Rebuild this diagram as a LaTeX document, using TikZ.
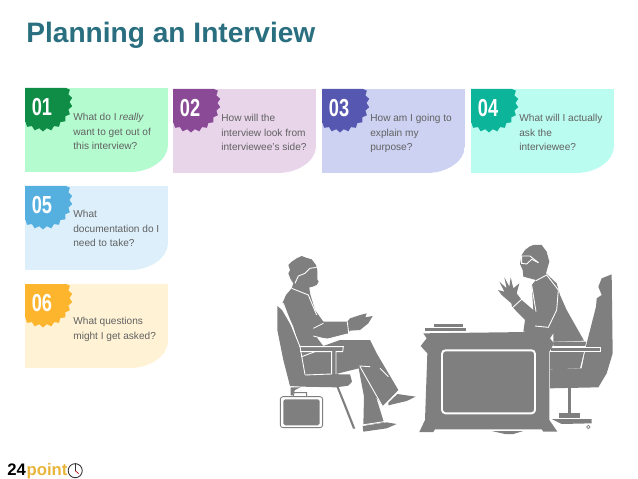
\documentclass[tikz,border=0pt]{standalone}
\usepackage{fontspec}
\usetikzlibrary{positioning}
\setmainfont{Liberation Sans}
\definecolor{figgray}{HTML}{7F7F7F}
\definecolor{titleteal}{HTML}{2A6F80}
\definecolor{logogold}{HTML}{E8B53A}
\definecolor{cardA}{HTML}{B5FBD0}\definecolor{burstA}{HTML}{0F8C46}
\definecolor{cardB}{HTML}{E8D5EA}\definecolor{burstB}{HTML}{8A4A96}
\definecolor{cardC}{HTML}{CDD2F2}\definecolor{burstC}{HTML}{5557B0}
\definecolor{cardD}{HTML}{BBFCF0}\definecolor{burstD}{HTML}{0CB59A}
\definecolor{cardE}{HTML}{DCEFFA}\definecolor{burstE}{HTML}{55B0E0}
\definecolor{cardF}{HTML}{FFF2D5}\definecolor{burstF}{HTML}{FDB52E}
\tikzset{
  numlabel/.style={text=white,font=\fontsize{14}{14}\selectfont\bfseries,inner sep=0pt},
  cardtext/.style={text=black!62,font=\fontsize{5.75}{8.5}\selectfont,align=left,anchor=base west,inner sep=0pt},
  figfill/.style={fill=figgray,draw=none},
  cutline/.style={draw=white,line width=0.5pt},
}
\begin{document}
\begin{tikzpicture}[x=0.02cm,y=-0.02cm]
    \useasboundingbox (0,0) rectangle (638,479);
    \node[anchor=base west,inner sep=0pt,text=titleteal,font=\fontsize{16}{16}\selectfont\bfseries] (title) at (26,43) {Planning an Interview};
    % cards
    \foreach \cx/\cy/\fillc/\burstc/\num/\by/\lines in {
        25/88/cardA/burstA/01/150/{What do I \textit{really}\\want to get out of\\this interview?},
        173/89/cardB/burstB/02/151/{How will the\\interview look from\\interviewee's side?},
        322/89/cardC/burstC/03/151/{How am I going to\\explain my\\purpose?},
        471/89/cardD/burstD/04/151/{What will I actually\\ask the\\interviewee?},
        25/186/cardE/burstE/05/247/{What\\documentation do I\\need to take?},
        25/284/cardF/burstF/06/339/{What questions\\might I get asked?}} {
        \begin{scope}
            \clip (\cx,\cy) -- (\cx+143,\cy) -- (\cx+143,\cy+57) .. controls (\cx+143,\cy+72) and (\cx+125,\cy+84) .. (\cx+105,\cy+84) -- (\cx,\cy+84) -- cycle;
            \fill[\fillc] (\cx,\cy) rectangle (\cx+143,\cy+84);
            \fill[\burstc] plot[samples=45,variable=\k,domain=0:44] ({\cx+18+(26.5+3*mod(round(\k),2))*cos(\k*8.1818)},{\cy+14+(26.5+3*mod(round(\k),2))*sin(\k*8.1818)}) -- cycle;
        \end{scope}
        \node[numlabel] (num\num) at (\cx+17,\cy+19) {\scalebox{.74}[1]{\num}};
        \node[cardtext] (txt\num) at (\cx+48,\by) {\lines};
    }
    % man on the left
    \begin{scope}[shift={(260,240)},scale=1/3]
        \fill[figfill] (52,198) -- (66,210) -- (95,260) -- (120,320) -- (135,402) -- (270,403) -- (276,425) -- (265,437) -- (236,441) -- (256,490) -- (286,566) -- (279,566) -- (246,482) -- (230,442) -- (125,440) -- (90,438) -- (70,360) -- (52,270) -- cycle;
        \fill[figfill] (110,55) -- (125,48) -- (135,52) -- (155,58) -- (168,75) -- (172,92) -- (172,118) -- (176,125) -- (170,135) -- (158,140) -- (148,142) -- (150,160) -- (165,210) -- (190,245) -- (262,245) -- (270,235) -- (300,225) -- (320,220) -- (316,232) -- (338,228) -- (325,250) -- (300,270) -- (270,272) -- (262,282) -- (205,296) -- (170,292) -- (190,318) -- (240,300) -- (330,300) -- (350,340) -- (415,450) -- (368,500) -- (348,470) -- (372,548) -- (310,555) -- (312,470) -- (296,385) -- (228,402) -- (135,402) -- (118,320) -- (100,260) -- (68,188) -- (78,165) -- (95,145) -- (100,130) -- (92,118) -- (85,100) -- (90,90) -- (85,75) -- (95,65) -- cycle;
        \fill[figfill] (308,558) -- (380,547) -- (410,552) -- (380,565) -- (310,575) -- cycle;
        \fill[figfill] (385,488) -- (412,462) -- (467,470) -- (440,483) -- (385,496) -- cycle;
        \draw[cutline] (70,190) -- (95,258) -- (120,320) -- (135,404);
        \draw[cutline] (118,320) -- (250,320) -- (248,335) -- (228,335) -- (228,402);
        \draw[cutline] (120,335) -- (215,335) -- (215,402) -- (135,405);
        \draw[cutline] (125,350) -- (165,335);
        \draw[cutline] (105,130) -- (115,108) -- (135,100) -- (150,85) -- (170,82);
        \draw[cutline] (95,145) -- (145,165) -- (170,225);
        \draw[cutline] (160,265) -- (190,250);
        \draw[cutline] (160,288) -- (200,298) -- (262,282);
        \draw[cutline] (262,245) -- (266,280);
        \draw[cutline] (300,380) -- (368,500) -- (410,460);
        \draw[cutline] (298,378) -- (330,380);
        \draw[cutline] (360,385) -- (385,410);
        \draw[cutline] (306,555) -- (372,545);
        \fill[figfill] (92,442) -- (122,442) -- (105,450) -- (98,466) -- (92,466) -- cycle;
        \draw[figgray,line width=.5pt] (100,469) -- (102,458) -- (140,458) -- (140,469);
        \draw[figgray,rounded corners=1.5pt,line width=.5pt] (61,470) rectangle (188,563);
        \fill[figfill,rounded corners=1pt] (70,478) rectangle (179,556);
    \end{scope}
    % man behind the desk
    \begin{scope}[shift={(410,240)},scale=1/3]
        \fill[figfill] (605,103) -- (608,340) -- (590,400) -- (565,442) -- (420,445) -- (420,388) -- (515,385) -- (530,310) -- (558,200) -- (560,175) -- (575,165) -- (565,140) -- (575,115) -- cycle;
        \fill[figfill] (473,445) rectangle (483,518);
        \fill[figfill] (447,518) rectangle (510,533);
        \fill[figfill] (425,537) -- (545,537) -- (545,550) -- (455,552) -- cycle;
        \draw[figgray,line width=.4pt] (535,561) circle (5);
        \fill[figfill] (345,30) -- (358,20) -- (370,15) -- (395,15) -- (410,35) -- (418,65) -- (408,100) -- (440,130) -- (450,165) -- (470,210) -- (522,302) -- (430,305) -- (430,280) -- (340,275) -- (345,240) -- (306,200) -- (304,190) -- (275,165) -- (264,150) -- (283,155) -- (268,125) -- (290,145) -- (283,112) -- (298,140) -- (302,112) -- (310,145) -- (328,130) -- (320,160) -- (335,180) -- (370,210) -- (365,135) -- (378,120) -- (340,110) -- (338,90) -- (330,72) -- (335,45) -- cycle;
        \fill[figfill] (420,335) -- (522,335) -- (510,385) -- (420,388) -- cycle;
        \draw[cutline] (335,48) -- (335,70) -- (350,72) -- (365,58) -- (385,68);
        \draw[cutline] (335,48) -- (360,48) -- (385,68);
        \draw[cutline] (305,205) -- (335,178);
        \draw[cutline] (378,122) -- (410,105) -- (445,150) -- (440,210) -- (415,262) -- (375,258);
        \draw[cutline] (365,135) -- (378,215);
        \fill[figfill] (430,305) -- (528,305) -- (526,318) -- (430,318) -- cycle;
        \fill[figfill,cutline] (420,322) -- (572,322) -- (572,334) -- (420,334) -- cycle;
        \fill[figfill] (40,280) -- (433,275) -- (420,295) -- (432,310) -- (418,335) -- (418,540) -- (442,575) -- (400,575) -- (395,568) -- (75,568) -- (70,576) -- (28,576) -- (45,540) -- (52,340) -- (32,318) -- (50,295) -- cycle;
        \fill[figfill] (245,573) -- (340,573) -- (310,582) -- (285,582) -- cycle;
        \fill[figfill] (45,264) rectangle (168,272);
        \fill[figfill] (72,252) rectangle (160,260);
        \draw[white,line width=1.1pt,rounded corners=2pt] (96,331) rectangle (375,520);
    \end{scope}
    % logo
    \node[anchor=base west,inner sep=0pt,font=\fontsize{9.5}{10}\selectfont\bfseries] (logonum) at (7,475) {24};
    \node[anchor=base west,inner sep=0pt,text=logogold,font=\fontsize{9.5}{10}\selectfont\bfseries] (logoword) at (logonum.base east) {point};
    \node[circle,draw=black!80,line width=.5pt,minimum size=8pt,inner sep=0pt,right=0pt of logoword.east] (clock) {};
    \draw[black!80,line width=.4pt] (clock.center) -- (clock.north);
    \draw[red!70!black,line width=.4pt] (clock.center) -- ++(3.5,3);
\end{tikzpicture}
\end{document}
